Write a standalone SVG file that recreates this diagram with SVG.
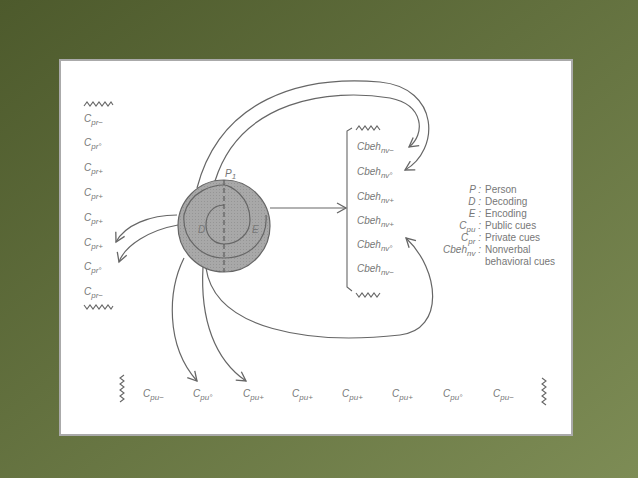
<svg xmlns="http://www.w3.org/2000/svg" width="638" height="478" viewBox="0 0 638 478">
<defs>
<linearGradient id="bg" x1="0" y1="0" x2="1" y2="1"><stop offset="0" stop-color="#4d5a2c"/><stop offset="1" stop-color="#7d8c55"/></linearGradient>
<marker id="ah" markerWidth="12" markerHeight="12" refX="10" refY="6" orient="auto" markerUnits="userSpaceOnUse"><path d="M1,1 L10,6 L1,11" fill="none" stroke="#666" stroke-width="1.3"/></marker>
<pattern id="dots" width="3" height="3" patternUnits="userSpaceOnUse"><rect width="3" height="3" fill="#a8a8a8"/><rect width="1" height="1" fill="#959595"/></pattern>
</defs>
<style>
.t{font-family:"Liberation Sans",Arial,sans-serif;font-style:italic;font-size:10px;fill:#777}
.l{font-family:"Liberation Sans",Arial,sans-serif;font-size:10px;fill:#777}
.s{font-size:8px}
.c{fill:none;stroke:#666;stroke-width:1.2}
.z{fill:none;stroke:#666;stroke-width:1.1}
</style>
<rect width="638" height="478" fill="url(#bg)"/>
<rect x="60" y="60" width="512" height="375" fill="#fff" stroke="#aaa" stroke-width="2"/>
<g id="connectors">
<path class="c" d="M197,188 C220,100 300,75 380,82 C440,88 440,150 405,170" marker-end="url(#ah)"/>
<path class="c" d="M215,181 C240,100 330,88 390,98 C425,105 425,135 409,147" marker-end="url(#ah)"/>
<line class="c" x1="270" y1="208" x2="346" y2="208" marker-end="url(#ah)"/>
<path class="c" d="M206,268 C215,330 310,345 400,335 C445,330 440,270 406,238" marker-end="url(#ah)"/>
<path class="c" d="M177,215 C150,215 125,225 116,242" marker-end="url(#ah)"/>
<path class="c" d="M178,225 C150,230 125,245 119,262" marker-end="url(#ah)"/>
<path class="c" d="M184,258 C168,290 165,345 197,381" marker-end="url(#ah)"/>
<path class="c" d="M203,267 C200,320 215,360 246,381" marker-end="url(#ah)"/>
</g>
<g id="person">
<circle cx="224" cy="226" r="46" fill="url(#dots)" stroke="#666" stroke-width="1.2"/>
<path class="c" d="M224,205 C212,205 206,215 206,225 C206,237 215,244 224,244 C238,244 250,234 250,220 C250,196 230,185 224,185 C214,185 190,190 184,215 C182,238 200,258 224,258 C250,258 268,240 266,215" />
<line x1="224" y1="180" x2="224" y2="272" stroke="#555" stroke-width="1.1" stroke-dasharray="5,3"/>
<text class="t" x="225" y="177">P<tspan class="s" dy="2">1</tspan></text>
<text class="t" x="198" y="233">D</text>
<text class="t" x="252" y="233">E</text>
</g>
<g id="private">
<path class="z" d="M84,106 l3,-4 l3,4 l3,-4 l3,4 l3,-4 l3,4 l3,-4 l3,4 l3,-4 l2,3"/>
<text class="t" x="84" y="122">C<tspan class="s" dy="3">pr−</tspan></text>
<text class="t" x="84" y="146">C<tspan class="s" dy="3">pr°</tspan></text>
<text class="t" x="84" y="171">C<tspan class="s" dy="3">pr+</tspan></text>
<text class="t" x="84" y="196">C<tspan class="s" dy="3">pr+</tspan></text>
<text class="t" x="84" y="221">C<tspan class="s" dy="3">pr+</tspan></text>
<text class="t" x="84" y="246">C<tspan class="s" dy="3">pr+</tspan></text>
<text class="t" x="84" y="270">C<tspan class="s" dy="3">pr°</tspan></text>
<text class="t" x="84" y="295">C<tspan class="s" dy="3">pr−</tspan></text>
<path class="z" d="M84,305 l3,4 l3,-4 l3,4 l3,-4 l3,4 l3,-4 l3,4 l3,-4 l3,4 l2,-3"/>
</g>
<g id="behavior">
<path class="z" d="M352,128 L347,131 L347,287 L352,291"/>
<path class="z" d="M356,130 l3,-4 l3,4 l3,-4 l3,4 l3,-4 l3,4 l3,-4 l3,4"/>
<path class="z" d="M356,293 l3,4 l3,-4 l3,4 l3,-4 l3,4 l3,-4 l3,4 l3,-4"/>
<text class="t" x="357" y="150">Cbeh<tspan class="s" dy="3">nv−</tspan></text>
<text class="t" x="357" y="175">Cbeh<tspan class="s" dy="3">nv°</tspan></text>
<text class="t" x="357" y="200">Cbeh<tspan class="s" dy="3">nv+</tspan></text>
<text class="t" x="357" y="224">Cbeh<tspan class="s" dy="3">nv+</tspan></text>
<text class="t" x="357" y="248">Cbeh<tspan class="s" dy="3">nv°</tspan></text>
<text class="t" x="357" y="272">Cbeh<tspan class="s" dy="3">nv−</tspan></text>
</g>
<g id="public">
<path class="z" d="M124,375 l-4,3 l4,3 l-4,3 l4,3 l-4,3 l4,3 l-4,3 l4,3 l-4,3"/>
<text class="t" x="143" y="397">C<tspan class="s" dy="3">pu−</tspan></text>
<text class="t" x="193" y="397">C<tspan class="s" dy="3">pu°</tspan></text>
<text class="t" x="243" y="397">C<tspan class="s" dy="3">pu+</tspan></text>
<text class="t" x="292" y="397">C<tspan class="s" dy="3">pu+</tspan></text>
<text class="t" x="342" y="397">C<tspan class="s" dy="3">pu+</tspan></text>
<text class="t" x="392" y="397">C<tspan class="s" dy="3">pu+</tspan></text>
<text class="t" x="443" y="397">C<tspan class="s" dy="3">pu°</tspan></text>
<text class="t" x="493" y="397">C<tspan class="s" dy="3">pu−</tspan></text>
<path class="z" d="M542,378 l4,3 l-4,3 l4,3 l-4,3 l4,3 l-4,3 l4,3 l-4,3 l4,3"/>
</g>
<g id="legend">
<text class="t" x="481" y="193" text-anchor="end">P :</text>
<text class="t" x="481" y="205" text-anchor="end">D :</text>
<text class="t" x="481" y="217" text-anchor="end">E :</text>
<text class="t" x="481" y="229" text-anchor="end">C<tspan class="s" dy="3">pu</tspan><tspan dy="-3"> :</tspan></text>
<text class="t" x="481" y="241" text-anchor="end">C<tspan class="s" dy="3">pr</tspan><tspan dy="-3"> :</tspan></text>
<text class="t" x="481" y="253" text-anchor="end">Cbeh<tspan class="s" dy="3">nv</tspan><tspan dy="-3"> :</tspan></text>
<text class="l" x="485" y="193">Person</text>
<text class="l" x="485" y="205">Decoding</text>
<text class="l" x="485" y="217">Encoding</text>
<text class="l" x="485" y="229">Public cues</text>
<text class="l" x="485" y="241">Private cues</text>
<text class="l" x="485" y="253">Nonverbal</text>
<text class="l" x="485" y="265">behavioral cues</text>
</g>
</svg>
